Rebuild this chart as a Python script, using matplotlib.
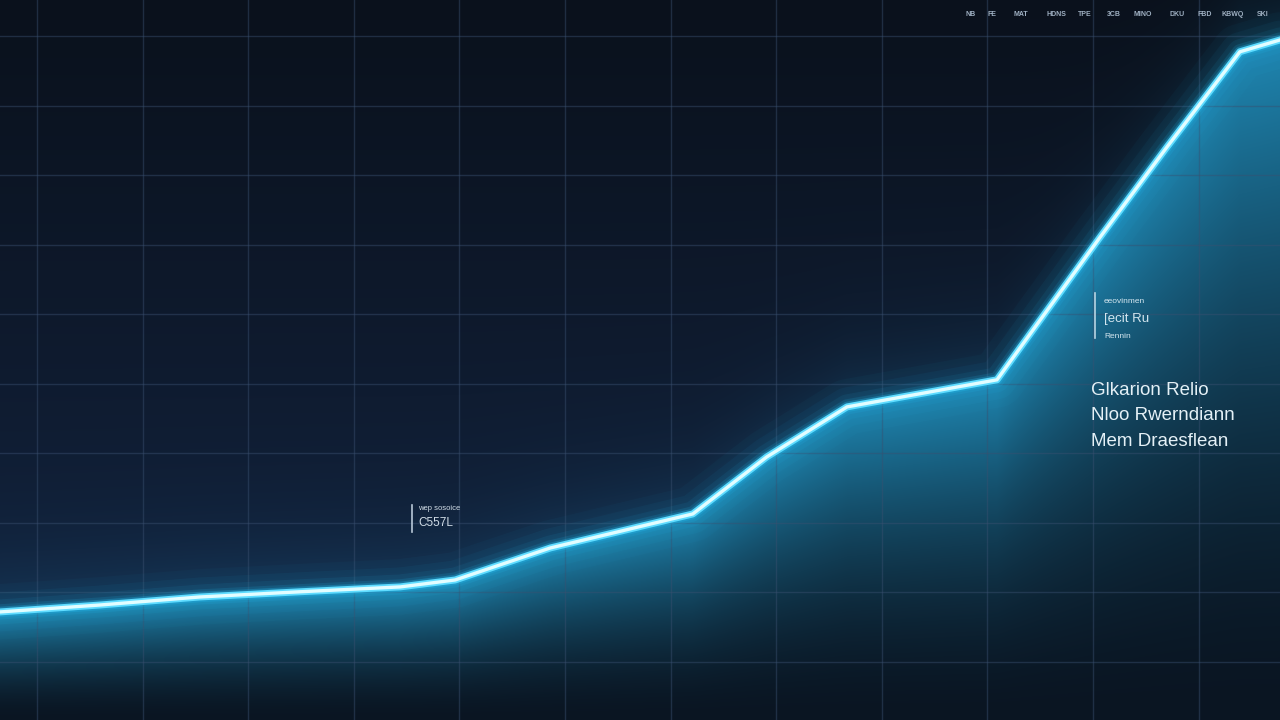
import matplotlib
matplotlib.use("Agg")
import matplotlib.pyplot as plt
import numpy as np
from matplotlib.colors import to_rgb

# curve values (x in grid columns, y in grid units x10)
x_vals = [-0.35, 0.60, 1.54, 2.49, 3.44, 3.96, 4.86, 6.21, 6.91, 7.67, 9.09, 10.07, 10.70, 11.39, 11.77]
y_vals = [7.2, 8.2, 9.35, 10.1, 10.8, 11.8, 16.4, 21.3, 29.5, 36.7, 40.6, 61.2, 74.1, 87.8, 89.5]

top_labels = ["NB", "FE", "MAT", "HDNS", "TPE", "3CB", "MINO", "DKU", "FBD", "KBWQ", "SKI"]
legend_lines = ["Glkarion Relio", "Nloo Rwerndiann", "Mem Draesflean"]
note_right = ["eeovinmen", "[ecit Ru", "Rennin"]
note_left = ["wep sosoice", "C557L"]

W, H = 1280, 720
xlim = (-0.35, 11.77)
ylim = (-8.35, 95.25)

fig = plt.figure(figsize=(12.8, 7.2), dpi=100)
fig.patch.set_facecolor("#0b1420")
ax = fig.add_axes([0, 0, 1, 1])
ax.set_xlim(*xlim)
ax.set_ylim(*ylim)
for s in ax.spines.values():
    s.set_visible(False)
ax.set_xticks(np.arange(0, 12))
ax.set_yticks(np.arange(0, 100, 10))
ax.tick_params(length=0, labelbottom=False, labelleft=False)
ax.grid(True, color="#3a5070", lw=1.0, alpha=0.45, zorder=1)
ax.set_axisbelow(False)


def mix(a, b, t):
    a = np.array(to_rgb(a))
    b = np.array(to_rgb(b))
    return a + (b - a) * t[..., None]


# background: vertical gradient
rows = np.arange(H)[:, None] * np.ones((1, W))
t_top = np.clip(rows / 560, 0, 1)
bg = mix("#0a111c", "#112039", t_top)
bot = np.clip((rows - 630) / 90, 0, 1)
bg = bg * (1 - 0.4 * bot[..., None])

# area below the line: fades from the line down to the bottom edge
xd = xlim[0] + (np.arange(W) + 0.5) / W * (xlim[1] - xlim[0])
line_y = np.interp(xd, x_vals, y_vals)
line_row = (ylim[1] - line_y) / (ylim[1] - ylim[0]) * H
d = rows - line_row[None, :]
span = (H - line_row)[None, :]
t = np.clip(d / span, 0, 1)
w = (1 - t) ** 1.7
under = mix("#0a1522", "#1f87b2", w)
below = (d > 0)[..., None]
img = np.where(below, under, bg)
# soft haze just above the line
halo = np.exp(np.clip(d, None, 0) / 45) * (d <= 0)
img = img + halo[..., None] * 0.16 * np.array(to_rgb("#1aa6d8"))
img = np.clip(img, 0, 1)
ax.imshow(img, extent=(xlim[0], xlim[1], ylim[0], ylim[1]), aspect="auto",
          origin="upper", zorder=0, interpolation="bilinear")

# glowing line
for lw, a in [(40, 0.035), (28, 0.05), (18, 0.08), (11, 0.14), (7.5, 0.3)]:
    ax.plot(x_vals, y_vals, color="#22b8ea", lw=lw, alpha=a, solid_capstyle="round",
            solid_joinstyle="round", zorder=3)
ax.plot(x_vals, y_vals, color="#5fdcff", lw=5.0, zorder=4, solid_joinstyle="round")
ax.plot(x_vals, y_vals, color="#e2fdff", lw=2.4, zorder=5, solid_joinstyle="round")

font = ["Liberation Sans", "DejaVu Sans"]

# top strip labels
top_x = [971, 992, 1021, 1056, 1085, 1114, 1143, 1177, 1205, 1233, 1263]
for px, lab in zip(top_x, top_labels):
    fig.text(px / W, 1 - 14 / H, lab, fontsize=5, color="#9fb0c2", ha="center",
             va="center", family=font, fontweight="bold")


def px_to_data(px, py):
    return (xlim[0] + px / W * (xlim[1] - xlim[0]),
            ylim[1] - py / H * (ylim[1] - ylim[0]))


# right annotation
(bx, by0), (_, by1) = px_to_data(1095, 293), px_to_data(1095, 338)
ax.plot([bx, bx], [by0, by1], color="#b8d4e2", lw=1.2, zorder=6)
for py, txt, fs in zip([301, 319, 336], note_right, [6, 9.5, 6]):
    fig.text(1104 / W, 1 - py / H, txt, fontsize=fs, color="#d4e6ef", ha="left",
             va="center", family=font)

# left annotation
(bx, by0), (_, by1) = px_to_data(412, 505), px_to_data(412, 532)
ax.plot([bx, bx], [by0, by1], color="#b8c8d8", lw=1.2, zorder=6)
for py, txt, fs in zip([509, 523], note_left, [5.5, 8.5]):
    fig.text(418 / W, 1 - py / H, txt, fontsize=fs, color="#d0dce6", ha="left",
             va="center", family=font)

# legend-like text block
for py, txt in zip([391, 416, 441], legend_lines):
    fig.text(1091 / W, 1 - py / H, txt, fontsize=13.5, color="#e4f0f6", ha="left",
             va="center", family=font)

fig.savefig("out.png", dpi=100, facecolor=fig.get_facecolor())
plt.close(fig)
